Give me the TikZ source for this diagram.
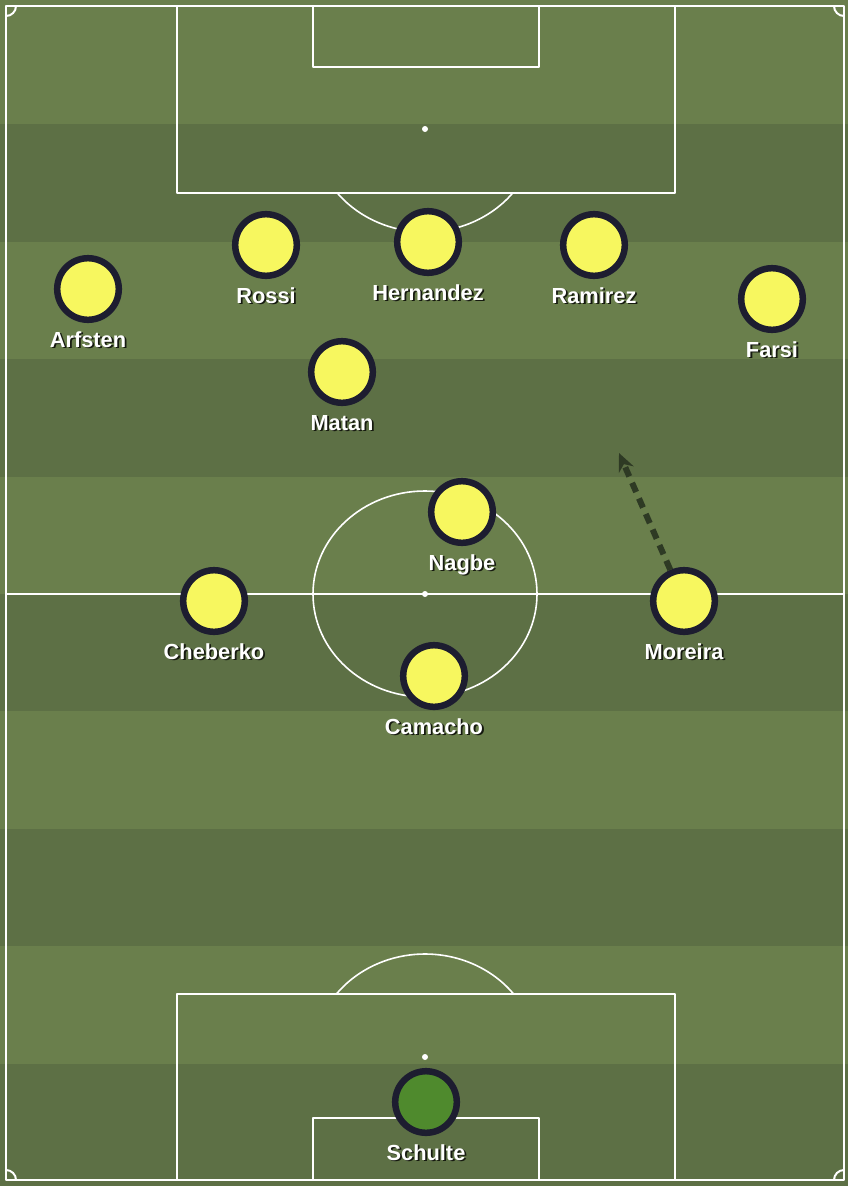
\documentclass[tikz,border=0pt]{standalone}
\usepackage{fontspec}
\setmainfont{Liberation Sans}
\usepackage{tikz}
\usetikzlibrary{arrows.meta}
\definecolor{grasslight}{HTML}{6A7F4C}
\definecolor{grassdark}{HTML}{5D7045}
\definecolor{shirt}{HTML}{F7F75F}
\definecolor{keepershirt}{HTML}{4F8A2D}
\definecolor{rim}{HTML}{1D1D30}
\definecolor{shade}{HTML}{161A10}
\definecolor{runline}{HTML}{2E3A24}
\newcommand{\pname}[1]{\makebox[0pt][l]{\hspace{1.8pt}\raisebox{-1.8pt}{\textcolor{shade}{#1}}}#1}

\begin{document}
\begin{tikzpicture}[x=1pt,y=-1pt,join=round,
  pitchline/.style={draw=white,line width=2pt},
  player/.style={circle,draw=rim,fill=shirt,line width=6.5pt,minimum size=61.6pt,inner sep=0pt},
  keeper/.style={player,fill=keepershirt},
  plabel/.style={anchor=base,text=white,font=\bfseries\fontsize{21.8}{26}\selectfont,inner sep=0pt},
  run/.style={draw=runline,line width=6pt,dash pattern=on 10pt off 7pt,-{Stealth[length=18pt,width=16pt]}}]
\useasboundingbox (0,0) rectangle (848,1186);
% grass
\fill[grasslight] (0,0) rectangle (848,1186);
\fill[grassdark] (0,124.4) rectangle (848,241.8);
\fill[grassdark] (0,359.2) rectangle (848,476.6);
\fill[grassdark] (0,594) rectangle (848,711.4);
\fill[grassdark] (0,828.8) rectangle (848,946.2);
\fill[grassdark] (0,1063.6) rectangle (848,1186);
% lines
\draw[pitchline] (6,6) rectangle (844,1180);
\draw[pitchline] (6,594)--(844,594);
\draw[pitchline,line width=1.6pt] (425,594) ellipse [x radius=112,y radius=103];
\fill[white] (425,594) circle (3);
\draw[pitchline] (177,6) rectangle (675,193);
\draw[pitchline] (313,6) rectangle (539,67);
\fill[white] (425,129) circle (3);
\draw[pitchline,line width=1.6pt] (425,129) ++(38.4:112 and 103) arc[start angle=38.4,end angle=141.6,x radius=112,y radius=103];
\draw[pitchline] (177,1180) rectangle (675,994);
\draw[pitchline] (313,1180) rectangle (539,1118);
\fill[white] (425,1057) circle (3);
\draw[pitchline,line width=1.6pt] (425,1057) ++(-37.7:112 and 103) arc[start angle=-37.7,end angle=-142.3,x radius=112,y radius=103];
\draw[pitchline] (16,6) arc[start angle=0,end angle=90,radius=10];
\draw[pitchline] (834,6) arc[start angle=180,end angle=90,radius=10];
\draw[pitchline] (16,1180) arc[start angle=0,end angle=-90,radius=10];
\draw[pitchline] (834,1180) arc[start angle=180,end angle=270,radius=10];
% players
\node[player] (rossi) at (266,245) {};
\node[plabel] (rossi-l) at (266,303) {\pname{Rossi}};
\node[player] (hernandez) at (428,242) {};
\node[plabel] (hernandez-l) at (428,300) {\pname{Hernandez}};
\node[player] (ramirez) at (594,245) {};
\node[plabel] (ramirez-l) at (594,303) {\pname{Ramirez}};
\node[player] (arfsten) at (88,289) {};
\node[plabel] (arfsten-l) at (88,347) {\pname{Arfsten}};
\node[player] (farsi) at (772,299) {};
\node[plabel] (farsi-l) at (772,357) {\pname{Farsi}};
\node[player] (matan) at (342,372) {};
\node[plabel] (matan-l) at (342,430) {\pname{Matan}};
\node[player] (nagbe) at (462,512) {};
\node[plabel] (nagbe-l) at (462,570) {\pname{Nagbe}};
\node[player] (cheberko) at (214,601) {};
\node[plabel] (cheberko-l) at (214,659) {\pname{Cheberko}};
\node[player] (moreira) at (684,601) {};
\node[plabel] (moreira-l) at (684,659) {\pname{Moreira}};
\node[player] (camacho) at (434,676) {};
\node[plabel] (camacho-l) at (434,734) {\pname{Camacho}};
\node[keeper] (schulte) at (426,1102) {};
\node[plabel] (schulte-l) at (426,1160) {\pname{Schulte}};
% run
\coordinate (moreira-run) at (619,453);
\draw[run] (moreira) -- (moreira-run);
\end{tikzpicture}
\end{document}
